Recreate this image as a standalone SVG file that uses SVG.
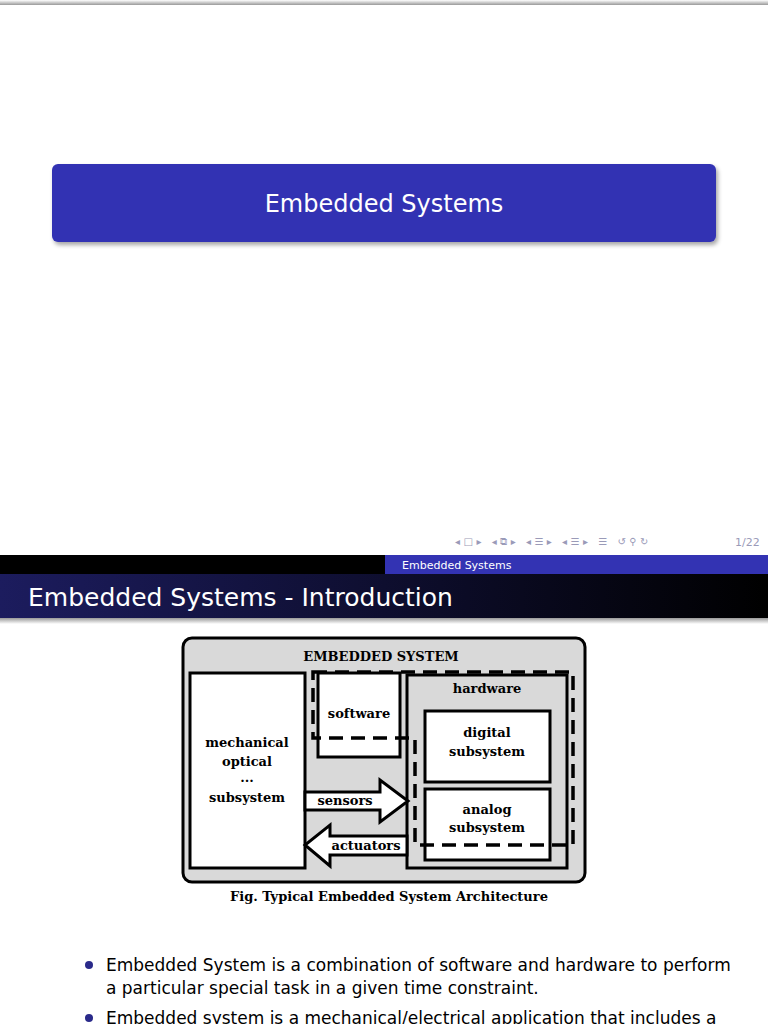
<svg xmlns="http://www.w3.org/2000/svg" width="768" height="1024" viewBox="0 0 768 1024">
<defs>
<linearGradient id="tg" x1="0" x2="1" y1="0" y2="0"><stop offset="0" stop-color="#1c1c5e"/><stop offset="1" stop-color="#000"/></linearGradient>
<linearGradient id="sh" x1="0" x2="0" y1="0" y2="1"><stop offset="0" stop-color="#999"/><stop offset="1" stop-color="#fff"/></linearGradient>
<filter id="ds"><feDropShadow dx="2" dy="3" stdDeviation="2" flood-opacity="0.35"/></filter>
</defs>
<style>
.s{font-family:"DejaVu Sans","Open Sans",sans-serif}
.b{font-family:"DejaVu Serif",serif;font-weight:bold;font-size:13px;text-anchor:middle}
.box{fill:#fff;stroke:#000;stroke-width:3}
.nav{font-family:"DejaVu Sans",sans-serif;font-size:10px;fill:#9a9ab8;letter-spacing:3.5px}
</style>
<rect width="768" height="1024" fill="#fff"/>
<rect x="0" y="0" width="768" height="5" fill="url(#sh)" transform="rotate(180 384 2.5)"/>
<g id="title-slide">
<rect x="52" y="164" width="664" height="78" rx="6" fill="#3333b3" filter="url(#ds)"/>
<text x="384" y="212" class="s" font-size="24" fill="#fff" text-anchor="middle">Embedded Systems</text>
</g>
<g id="nav">
<text x="455" y="545" class="nav">◂□▸ ◂⧉▸ ◂☰▸ ◂☰▸  ☰  ↺⚲↻</text>
<text x="735" y="546" class="s" font-size="11" fill="#9a9ab8">1/22</text>
</g>
<g id="header">
<rect x="0" y="555" width="385" height="19" fill="#000"/>
<rect x="385" y="555" width="383" height="19" fill="#3333b3"/>
<text x="402" y="569" class="s" font-size="11" fill="#fff">Embedded Systems</text>
<rect x="0" y="574" width="768" height="44" fill="url(#tg)"/>
<rect x="0" y="618" width="768" height="6" fill="url(#sh)"/>
<text x="28" y="606" class="s" font-size="25" fill="#fff">Embedded Systems - Introduction</text>
</g>
<g id="outer"><rect x="183" y="638" width="402" height="244" rx="9" fill="#d9d9d9" stroke="#000" stroke-width="3"/>
<text x="381" y="661" class="b" font-size="14">EMBEDDED SYSTEM</text></g>
<g id="mech"><rect x="190" y="673" width="115" height="195" class="box"/>
<text class="b" x="247" y="747">mechanical</text><text class="b" x="247" y="766">optical</text><text class="b" x="247" y="782">...</text><text class="b" x="247" y="802">subsystem</text></g>
<g id="software"><rect x="318" y="673" width="82" height="84" class="box"/><text class="b" x="359" y="718">software</text></g>
<g id="hardware"><rect x="407" y="675" width="160" height="193" fill="#d9d9d9" stroke="#000" stroke-width="3"/><text class="b" x="487" y="693">hardware</text></g>
<g id="digital"><rect x="425" y="711" width="125" height="71" class="box"/><text class="b" x="487" y="737">digital</text><text class="b" x="487" y="756">subsystem</text></g>
<g id="analog"><rect x="425" y="789" width="125" height="71" class="box"/><text class="b" x="487" y="814">analog</text><text class="b" x="487" y="832">subsystem</text></g>
<g id="connectors">
<path d="M313,672 H573 V845 H415 V738 H313 Z" fill="none" stroke="#000" stroke-width="3.5" stroke-dasharray="14,8"/>
<path d="M305,792 H380 V780 L408,801 L380,822 V810 H305 Z" fill="#fff" stroke="#000" stroke-width="3"/>
<text class="b" x="345" y="805">sensors</text>
<path d="M407,836 H330 V825 L305,845 L330,866 V855 H407 Z" fill="#fff" stroke="#000" stroke-width="3"/>
<text class="b" x="366" y="850">actuators</text>
</g>
<text x="389" y="901" class="b" font-size="14">Fig. Typical Embedded System Architecture</text>
<g id="bullets" class="s" font-size="17" fill="#000">
<circle cx="89" cy="965" r="4" fill="#2a2a8a"/>
<text x="106" y="971">Embedded System is a combination of software and hardware to perform</text>
<text x="106" y="994">a particular special task in a given time constraint.</text>
<circle cx="89" cy="1018" r="4" fill="#2a2a8a"/>
<text x="106" y="1024">Embedded system is a mechanical/electrical application that includes a</text>
</g>
</svg>
